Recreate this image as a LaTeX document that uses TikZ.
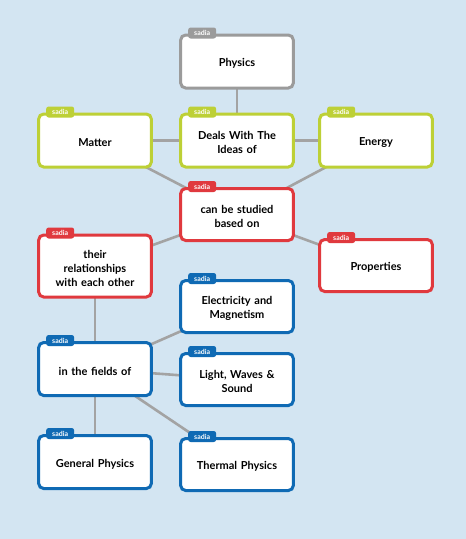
\documentclass[tikz,border=0pt]{standalone}
\usepackage{fontspec}
\setmainfont{Lato}
\definecolor{bgc}{HTML}{D3E5F2}
\definecolor{cgray}{HTML}{9B9B9B}
\definecolor{clime}{HTML}{BDD036}
\definecolor{cred}{HTML}{E0393E}
\definecolor{cblue}{HTML}{0F6AB4}
\definecolor{linkc}{HTML}{A3A3A3}
\tikzset{
  box/.style={draw=#1, line width=3pt, fill=white, rounded corners=5pt,
    minimum width=111pt, minimum height=52pt, align=center,
    execute at begin node={\rule{0pt}{12.5pt}},
    font=\fontsize{11}{14}\selectfont\bfseries, text width=106pt},
  tag/.style={fill=#1, rounded corners=2.5pt, minimum width=28pt, minimum height=11pt,
    inner sep=0pt, text=white, font=\fontsize{7}{7}\selectfont\bfseries},
  link/.style={draw=linkc, line width=2.6pt}
}
\begin{document}
\begin{tikzpicture}[x=1pt,y=-1pt]
\useasboundingbox[fill=bgc] (0,0) rectangle (466,539);
% connectors
\coordinate (cPhy) at (237,61.5);
\coordinate (cMat) at (95,140.5);
\coordinate (cDea) at (237,140.5);
\coordinate (cEne) at (376,140.5);
\coordinate (cCan) at (237,214.5);
\coordinate (cRel) at (95,266);
\coordinate (cPro) at (376,265.5);
\coordinate (cEle) at (237,306.5);
\coordinate (cFie) at (95,369);
\coordinate (cLig) at (237,379.5);
\coordinate (cGen) at (95,462);
\coordinate (cThe) at (237,464.5);
\draw[link] (cPhy) -- (cDea);
\draw[link] (cMat) -- (cDea);
\draw[link] (cDea) -- (cEne);
\draw[link] (cMat) -- (cCan);
\draw[link] (cEne) -- (cCan);
\draw[link] (cCan) -- (cRel);
\draw[link] (cCan) -- (cPro);
\draw[link] (cRel) -- (cFie);
\draw[link] (cFie) -- (cEle);
\draw[link] (cFie) -- (cLig);
\draw[link] (cFie) -- (cGen);
\draw[link] (cFie) -- (cThe);
% boxes
\node[box=cgray, minimum height=53pt] (phy) at (cPhy) {Physics};
\node[box=clime, minimum height=53pt] (mat) at (cMat) {Matter};
\node[box=clime, minimum height=53pt] (dea) at (cDea) {Deals With The\\Ideas of};
\node[box=clime, minimum height=53pt] (ene) at (cEne) {Energy};
\node[box=cred] (can) at (cCan) {can be studied\\based on};
\node[box=cred, minimum height=62pt] (rel) at (cRel) {their\\relationships\\with each other};
\node[box=cred] (pro) at (cPro) {Properties};
\node[box=cblue] (ele) at (cEle) {Electricity and\\Magnetism};
\node[box=cblue, minimum height=53pt] (fie) at (cFie) {in the fields of};
\node[box=cblue] (lig) at (cLig) {Light, Waves \&\\Sound};
\node[box=cblue, minimum height=53pt] (gen) at (cGen) {General Physics};
\node[box=cblue] (the) at (cThe) {Thermal Physics};
% tags
\foreach \n/\c in {phy/cgray, mat/clime, dea/clime, ene/clime, can/cred, rel/cred, pro/cred, ele/cblue, fie/cblue, lig/cblue, gen/cblue, the/cblue}{
  \node[tag=\c] (tag-\n) at ([xshift=23pt,yshift=0.5pt]\n.north west) {sadia};
}
\end{tikzpicture}
\end{document}
